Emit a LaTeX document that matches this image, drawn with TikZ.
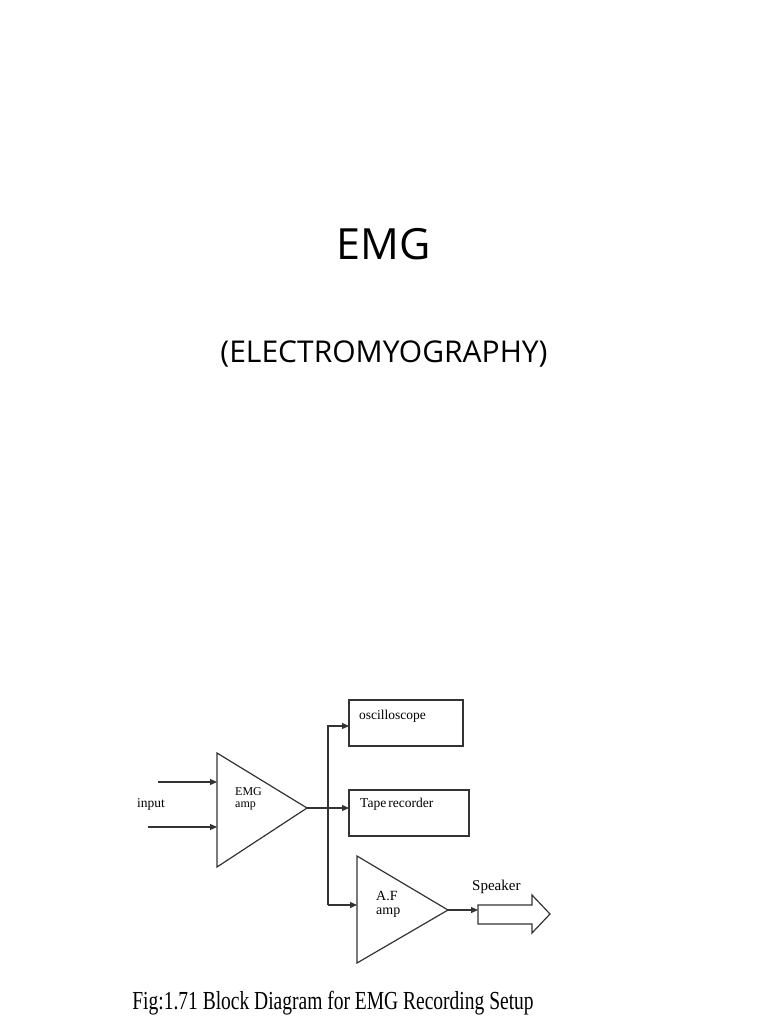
\documentclass[tikz,border=0pt]{standalone}
\usepackage{fontspec}
\setmainfont{Liberation Serif}
\newfontfamily\titlefont{Open Sans}
\usetikzlibrary{arrows.meta,shapes.arrows}
\begin{document}
\begin{tikzpicture}[x=1pt,y=-1pt,
  ln/.style={draw=black!80,line width=1.2pt},
  arr/.style={ln,-{Triangle[length=7pt,width=6pt]}},
  lbl/.style={inner sep=0pt,font=\fontsize{13.5}{13}\selectfont,align=left}]
\useasboundingbox (0,0) rectangle (768,1024);
\node[font=\titlefont\fontsize{43}{45}\selectfont] (t1) at (384,244) {EMG};
\node[font=\titlefont\fontsize{30}{32}\selectfont] (t2) at (384,354) {(ELECTROMYOGRAPHY)};
% EMG amp
\draw[ln] (217,753) coordinate (ea) -- (307,808) coordinate (etip) -- (217,867) -- cycle;
\coordinate (in1) at (158,782); \coordinate (in2) at (148,827);
\draw[arr] (in1) -- (217,782);
\draw[arr] (in2) -- (217,827);
\node[lbl,anchor=west] (inp) at (137,804) {input};
\node[lbl,anchor=north west,font=\fontsize{12}{12}\selectfont] (el) at (235,787) {EMG\\amp};
% boxes
\draw[ln] (349,700) rectangle (463,746);
\node[lbl,anchor=west] (osc) at (359,716) {oscilloscope};
\draw[ln] (349,790) rectangle (469,836);
\node[lbl,anchor=west] (tape) at (360,804) {Tape\,recorder};
% bus
\coordinate (b1) at (328,726); \coordinate (b2) at (328,905);
\draw[ln] (etip) -- (328,808);
\draw[arr] (328,808) -- (349,808);
\draw[arr] (328,905) |- (b1) -- (349,726);
% AF amp
\draw[ln] (357,856) -- (448,910) coordinate (atip) -- (357,963) -- cycle;
\draw[arr] (328,905) -- (357,905);
\node[lbl,anchor=north west,font=\fontsize{14}{14}\selectfont] (af) at (376,891) {A.F\\amp};
% speaker
\draw[arr] (atip) -- (478,910);
\draw[ln] (478,905) -- (532,905) -- (532,895) -- (550,914) -- (532,933) -- (532,924) -- (478,924) -- cycle;
\node[lbl,anchor=west,font=\fontsize{15}{15}\selectfont] (spk) at (472,887) {Speaker};
\node[inner sep=0pt,font=\fontsize{26}{28}\selectfont,xscale=0.75] (cap) at (333,1003) {Fig:1.71 Block Diagram for EMG Recording Setup};
\end{tikzpicture}
\end{document}
